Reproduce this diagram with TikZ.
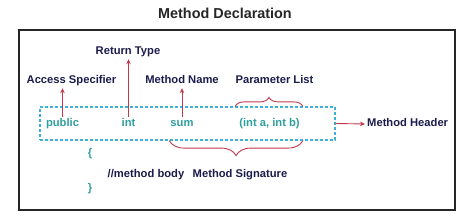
\documentclass[tikz,border=0pt]{standalone}
\usepackage{fontspec}
\setmainfont{Liberation Sans}
\usetikzlibrary{positioning, decorations.pathreplacing, arrows.meta}
\definecolor{navy}{HTML}{1B1B4D}
\definecolor{arrowred}{HTML}{C23A4A}
\definecolor{codeteal}{HTML}{2E9E9E}
\definecolor{dashcyan}{HTML}{3FB0D9}

\begin{document}
\begin{tikzpicture}[
        x=1pt, y=-1pt,
        >={Stealth[length=5pt,width=4.5pt]},
        partname/.style={font=\bfseries\fontsize{11.2}{13}\selectfont, text=navy, inner sep=2pt, text height=8pt, text depth=2pt},
        codetext/.style={partname, text=codeteal},
        pointer/.style={->, draw=arrowred, line width=0.9pt},
        curly/.style={draw=arrowred, line width=0.9pt, decorate, decoration={brace, amplitude=#1}},
        headerbox/.style={draw=dashcyan, line width=1.2pt, dash pattern=on 3pt off 2pt},
        frame/.style={draw=black!85, line width=1.6pt}
    ]
    \useasboundingbox (0,0) rectangle (474,219);

    % Title and frame
    \node[font=\bfseries\fontsize{14.4}{17}\selectfont, text=black!85] (title) at (225,13) {Method Declaration};
    \node[frame, minimum width=436pt, minimum height=180pt] (frame) at (237,120) {};

    % Method header
    \node[codetext] (public) at (62.5,124) {public};
    \node[codetext] (int) at (128.5,124) {int};
    \node[codetext] (sum) at (182,124) {sum};
    \node[codetext] (params) at (269.5,124) {(int a, int b)};
    \node[headerbox, minimum width=295pt, minimum height=33pt] (header) at (187.5,123.5) {};
    \node[partname, anchor=west] (mheader) at (365,124) {Method Header};

    % Part names
    \node[partname] (rettype) at (128,52) {Return Type};
    \node[partname] (access) at (71.5,81) {Access Specifier};
    \node[partname] (mname) at (182,81) {Method Name};
    \node[partname] (plist) at (274.5,81) {Parameter List};

    % Method body
    \node[codetext] (open) at (90,154) {\{};
    \node[partname] (body) at (146,175) {//method body};
    \node[partname] (sig) at (240,175) {Method Signature};
    \node[codetext] (close) at (90,188) {\}};

    % Arrows
    \draw[pointer] (public.north) -- (public.north |- access.south);
    \draw[pointer] (int.north) -- (int.north |- rettype.south);
    \draw[pointer] (sum.north) -- (sum.north |- mname.south);
    \draw[pointer] (header.east) -- (mheader.west);

    % Braces
    \draw[curly=9pt] ([xshift=-2pt]params.west |- header.north) -- ([xshift=1pt]params.east |- header.north);
    \draw[curly=15pt] ([xshift=1pt]params.east |- header.south) -- ([xshift=1pt]sum.west |- header.south);

\end{tikzpicture}
\end{document}
